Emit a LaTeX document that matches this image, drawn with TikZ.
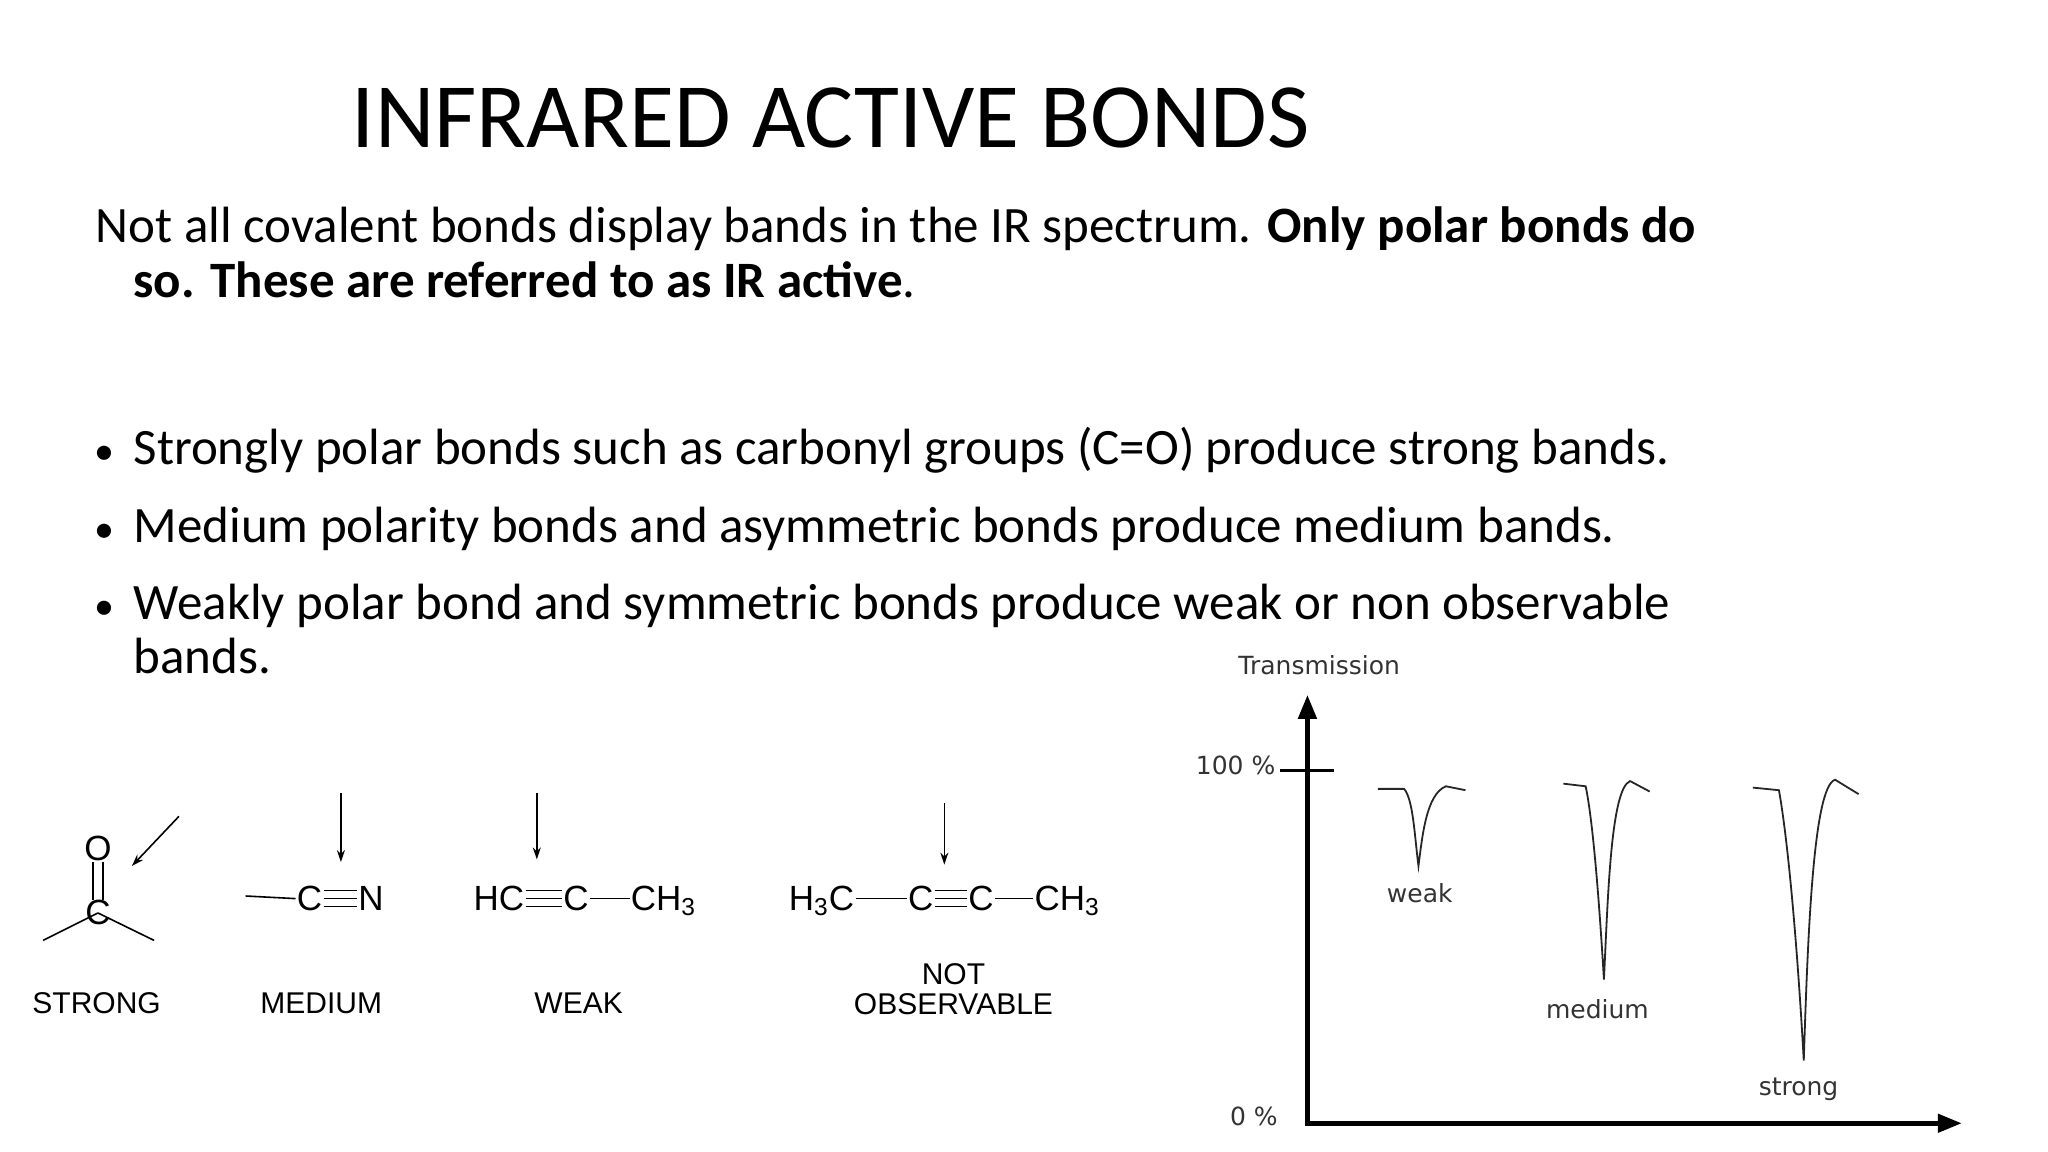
\documentclass[tikz,border=0pt]{standalone}
\usepackage{fontspec}
\setmainfont{Carlito}
\newfontfamily\molfont{Liberation Sans}
\newfontfamily\grfont{DejaVu Sans}
\usetikzlibrary{arrows.meta}
\newcommand{\sbs}[1]{\textsubscript{#1}}
\begin{document}
\begin{tikzpicture}[x=0.653pt,y=-0.653pt,
  body/.style={anchor=base west,inner sep=0,font=\fontsize{25.5}{30}\selectfont},
  bul/.style={anchor=base west,inner sep=0,font=\fontsize{20}{24}\selectfont},
  atom/.style={inner sep=0.5pt,text height=12pt,text depth=0pt,font=\molfont\fontsize{17.5}{20}\selectfont},
  mlabel/.style={inner sep=0,font=\molfont\fontsize{15}{17}\selectfont,align=center},
  bond/.style={line width=0.8pt},
  marrow/.style={line width=0.8pt,-{Stealth[length=6pt,width=4pt]}},
  glabel/.style={inner sep=0,font=\grfont\fontsize{12.5}{15}\selectfont,text=black!80},
  peak/.style={line width=0.9pt,black!85},
  axis/.style={line width=2.4pt,-{Triangle[length=12pt,width=9pt]}}]
\useasboundingbox (0,0) rectangle (1568,882);
% title
\node[anchor=base,inner sep=0,font=\fontsize{46}{50}\selectfont] (title) at (636,113) {INFRARED ACTIVE BONDS};
% text
\node[body] (l1) at (73,186) {Not all covalent bonds display bands in the IR spectrum. \textbf{Only polar bonds do}};
\node[body] (l2) at (102,228) {\textbf{so. These are referred to as IR active}.};
\node[bul] (b1d) at (72,356) {•};
\node[body] (b1) at (102,356) {Strongly polar bonds such as carbonyl groups (C=O) produce strong bands.};
\node[bul] (b2d) at (72,415) {•};
\node[body] (b2) at (102,415) {Medium polarity bonds and asymmetric bonds produce medium bands.};
\node[bul] (b3d) at (72,474) {•};
\node[body] (b3) at (102,474) {Weakly polar bond and symmetric bonds produce weak or non observable};
\node[body] (b4) at (102,516) {bands.};
% carbonyl
\node[atom] (O1) at (75,650) {O};
\node[atom] (C1) at (75,699) {C};
\coordinate (cl) at (33,720);
\coordinate (cr) at (118,720);
\draw[bond] ([xshift=-2.5]O1.south) -- ([xshift=-2.5]C1.north);
\draw[bond] ([xshift=2.5]O1.south) -- ([xshift=2.5]C1.north);
\draw[bond] (C1.center) -- (cl);
\draw[bond] (C1.center) -- (cr);
\coordinate (a1s) at (137,625);
\coordinate (a1e) at (101,663);
\draw[marrow] (a1s) -- (a1e);
\node[mlabel] (L1) at (74,768) {STRONG};
% nitrile
\coordinate (n0) at (188,686);
\node[atom] (C2) at (237,688) {C};
\node[atom] (N2) at (284,688) {N};
\draw[bond] (n0) -- (C2.west);
\foreach \d in {-4,0,4} \draw[bond] ([yshift=\d]C2.east) -- ([yshift=\d]N2.west);
\coordinate (a2s) at (261,607);
\coordinate (a2e) at (261,660);
\draw[marrow] (a2s) -- (a2e);
\node[mlabel] (L2) at (246,768) {MEDIUM};
% propyne
\node[atom] (H3) at (382,688) {HC};
\node[atom] (C3) at (441,688) {C};
\node[atom] (M3) at (508,688) {CH\sbs{3}};
\foreach \d in {-4,0,4} \draw[bond] ([yshift=\d]H3.east) -- ([yshift=\d]C3.west);
\draw[bond] (C3.east) -- (M3.west);
\coordinate (a3s) at (411,607);
\coordinate (a3e) at (411,658);
\draw[marrow] (a3s) -- (a3e);
\node[mlabel] (L3) at (443,768) {WEAK};
% 2-butyne
\node[atom] (M4a) at (629,688) {H\sbs{3}C};
\node[atom] (C4a) at (705,688) {C};
\node[atom] (C4b) at (751,688) {C};
\node[atom] (M4b) at (817,688) {CH\sbs{3}};
\draw[bond] (M4a.east) -- (C4a.west);
\foreach \d in {-4,0,4} \draw[bond] ([yshift=\d]C4a.east) -- ([yshift=\d]C4b.west);
\draw[bond] (C4b.east) -- (M4b.west);
\coordinate (a4s) at (723,615);
\coordinate (a4e) at (723,662);
\draw[marrow] (a4s) -- (a4e);
\node[mlabel] (L4) at (730,757) {NOT\\[-2pt]OBSERVABLE};
% graph
\coordinate (org) at (1001,860);
\coordinate (ytop) at (1001,532);
\coordinate (xend) at (1502,860);
\draw[axis] (org) -- (ytop);
\draw[axis] ([xshift=-1.2]org) -- (xend);
\coordinate (t1) at (980,590);
\coordinate (t2) at (1021,590);
\draw[line width=1.6pt] (t1) -- (t2);
\node[glabel] (tr) at (1010,509) {Transmission};
\node[glabel] (p100) at (946,586) {100 \%};
\node[glabel] (p0) at (960,855) {0 \%};
\draw[peak] (1055,604) -- (1075,604) .. controls (1082,612) and (1083,640) .. (1086,663)
  .. controls (1089,640) and (1092,608) .. (1107,602) -- (1122,605);
\draw[peak] (1197,600) -- (1214,602) .. controls (1220,630) and (1225,700) .. (1228,750)
  .. controls (1231,690) and (1233,604) .. (1248,598) -- (1263,606);
\draw[peak] (1342,603) -- (1362,605) .. controls (1370,650) and (1377,740) .. (1381,812)
  .. controls (1384,720) and (1388,602) .. (1405,597) -- (1423,608);
\node[glabel] (gw) at (1087,684) {weak};
\node[glabel] (gm) at (1223,773) {medium};
\node[glabel] (gs) at (1377,834) {strong};
\end{tikzpicture}
\end{document}
